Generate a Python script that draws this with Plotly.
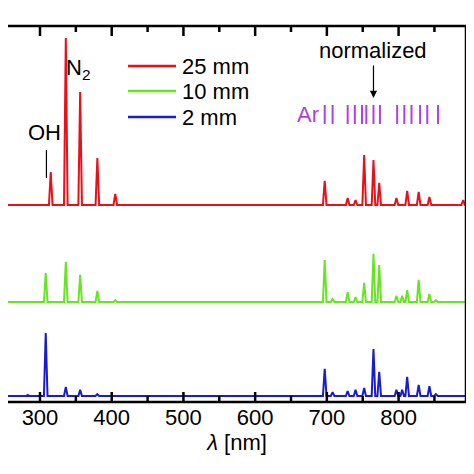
import plotly.graph_objects as go

# peak wavelengths (nm) and heights (arbitrary units, above each baseline)
red_peaks_nm = [315, 336, 356, 380, 405, 697, 729, 740, 752, 765, 773, 797, 812, 828, 843, 890]
red_peaks_h = [0.086, 0.437, 0.296, 0.123, 0.029, 0.063, 0.018, 0.013, 0.131, 0.118, 0.058, 0.018, 0.037, 0.034, 0.021, 0.013]

green_peaks_nm = [308, 336, 356, 380, 405, 697, 708, 729, 740, 752, 765, 773, 797, 805, 812, 828, 843, 852]
green_peaks_h = [0.076, 0.105, 0.071, 0.029, 0.005, 0.110, 0.008, 0.026, 0.013, 0.050, 0.126, 0.097, 0.016, 0.016, 0.031, 0.058, 0.021, 0.005]

blue_peaks_nm = [283, 308, 336, 356, 380, 697, 708, 729, 740, 752, 765, 773, 797, 805, 812, 828, 843, 852]
blue_peaks_h = [0.003, 0.165, 0.024, 0.016, 0.005, 0.071, 0.010, 0.013, 0.016, 0.021, 0.123, 0.063, 0.016, 0.016, 0.050, 0.029, 0.026, 0.005]

baselines_px = {"25 mm": 205, "10 mm": 302, "2 mm": 396}

ar_lines_nm = [697, 708, 729, 739, 749, 755, 765, 774, 798, 808, 818, 830, 840, 855]

major_ticks = [300, 400, 500, 600, 700, 800]
minor_ticks = [350, 450, 550, 650, 750, 850]

X_MIN, X_MAX = 255.4, 894

# page body has an 8px margin; positions below are in page pixels
PX0, PW = 8, 458
TOP, BOT = 26, 402
SCALE = 382 / (BOT - TOP)  # keep peak heights in reference pixels


def px(x):
    return (x - PX0) / PW


def py(y):
    return (BOT - y) / (BOT - TOP)


def spectrum(peaks, heights, base):
    """Baseline with narrow triangular lines at each peak."""
    xs, ys = [X_MIN], [base]
    for c, h in sorted(zip(peaks, heights)):
        xs += [c - 2.5, c, c + 2.5]
        ys += [base, base + h * SCALE, base]
    xs.append(X_MAX)
    ys.append(base)
    return xs, ys


fig = go.Figure()

series = [
    ("25 mm", red_peaks_nm, red_peaks_h, "#e8101a"),
    ("10 mm", green_peaks_nm, green_peaks_h, "#66e622"),
    ("2 mm", blue_peaks_nm, blue_peaks_h, "#1a1ad0"),
]
for name, pk, ht, color in series:
    xs, ys = spectrum(pk, ht, py(baselines_px[name]))
    fig.add_trace(go.Scatter(x=xs, y=ys, mode="lines", name=name,
                             line=dict(color=color, width=2), showlegend=False))

# Ar reference lines
ax, ay = [], []
for w in ar_lines_nm:
    ax += [w, w, None]
    ay += [py(124), py(105), None]
fig.add_trace(go.Scatter(x=ax, y=ay, mode="lines", line=dict(color="#b040e0", width=2),
                         showlegend=False))

font = dict(family="Arial, Liberation Sans, sans-serif", size=22, color="black")

# manual legend
for i, (name, _, _, color) in enumerate(series):
    yp = py([66, 91, 117][i])
    fig.add_shape(type="line", xref="paper", yref="paper", x0=px(128), x1=px(176),
                  y0=yp, y1=yp, line=dict(color=color, width=2.5))
    fig.add_annotation(xref="paper", yref="paper", x=px(180), y=yp, text=name,
                       showarrow=False, xanchor="left", yanchor="middle", font=font)

fig.add_annotation(x=306, y=py(132), text="OH", showarrow=False, yanchor="middle", font=font)
fig.add_shape(type="line", x0=309, x1=309, y0=py(178), y1=py(150),
              line=dict(color="black", width=1.2))
fig.add_annotation(x=333, y=py(69), text="N<sub>2</sub>", showarrow=False,
                   xanchor="left", yanchor="middle", font=font)
fig.add_annotation(x=765, y=py(50), text="normalized", showarrow=False,
                   yanchor="middle", font=font)
fig.add_annotation(x=765, y=py(98), ax=765, ay=py(64),
                   axref="x", ayref="y", text="", showarrow=True, arrowhead=2,
                   arrowsize=1.2, arrowwidth=1.2, arrowcolor="black")
fig.add_annotation(x=673, y=py(114), text="Ar", showarrow=False, yanchor="middle",
                   font=dict(family=font["family"], size=22, color="#b040e0"))

# frame: top and right edges
fig.add_shape(type="line", xref="paper", yref="paper", x0=0, x1=1, y0=1, y1=1,
              line=dict(color="black", width=2.5))
fig.add_shape(type="line", xref="paper", yref="paper", x0=1, x1=1, y0=0, y1=1,
              line=dict(color="black", width=2.5))
fig.add_shape(type="line", xref="paper", yref="paper", x0=0, x1=1, y0=0, y1=0,
              line=dict(color="black", width=2.5))

# inward tick marks on bottom and top edges
plot_h = BOT - TOP
for ticks, length in [(major_ticks, 10), (minor_ticks, 6)]:
    for t in ticks:
        for y0, y1 in [(0, length / plot_h), (1, 1 - length / plot_h)]:
            fig.add_shape(type="line", xref="x", yref="paper", x0=t, x1=t, y0=y0, y1=y1,
                          line=dict(color="black", width=2.5))

fig.update_xaxes(range=[X_MIN, X_MAX], tickvals=major_ticks, ticks="", showline=False,
                 showgrid=False, zeroline=False, tickfont=font,
                 title=dict(text="<i>λ</i> [nm]", font=font, standoff=4))
fig.update_yaxes(range=[0, 1], visible=False, showgrid=False)

fig.update_layout(width=458, height=458, plot_bgcolor="white", paper_bgcolor="white",
                  margin=dict(l=0, r=0, t=TOP - 8, b=458 - (BOT - 8), autoexpand=False),
                  showlegend=False)

fig.write_html("out.html")
